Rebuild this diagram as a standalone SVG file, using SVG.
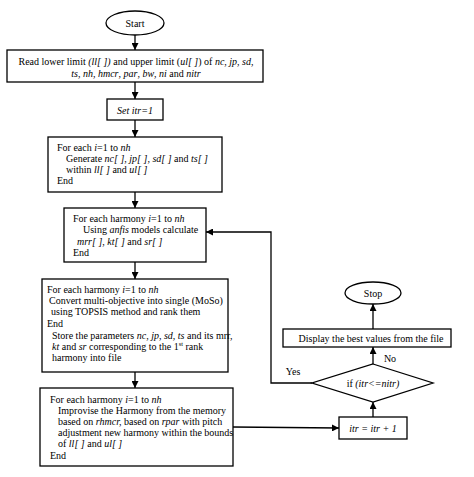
<svg xmlns="http://www.w3.org/2000/svg" width="474" height="477" viewBox="0 0 474 477" font-family="'Liberation Serif', 'Times New Roman', Times, serif">
<style>
.b{fill:#fff;stroke:#000;stroke-width:1.3}
text{font-family:'Liberation Serif','Times New Roman',Times,serif;font-size:10px;fill:#000}
.c{text-anchor:middle}
.i{font-style:italic}
.l{fill:none;stroke:#000;stroke-width:1.3}
</style>
<defs>
<marker id="a" viewBox="0 0 10 10" refX="10" refY="5" markerWidth="7" markerHeight="7" markerUnits="userSpaceOnUse" orient="auto"><path d="M0,0L10,5L0,10z" fill="#000"/></marker>
</defs>
<rect width="474" height="477" fill="#fff"/>
<g id="connectors">
<line class="l" x1="135" y1="35" x2="135" y2="50" marker-end="url(#a)"/>
<line class="l" x1="135" y1="82" x2="135" y2="99" marker-end="url(#a)"/>
<line class="l" x1="135" y1="120" x2="135" y2="137" marker-end="url(#a)"/>
<line class="l" x1="135" y1="192" x2="135" y2="208" marker-end="url(#a)"/>
<line class="l" x1="135" y1="262" x2="135" y2="279" marker-end="url(#a)"/>
<line class="l" x1="135" y1="372" x2="135" y2="388" marker-end="url(#a)"/>
<line class="l" x1="233" y1="427" x2="339" y2="428" marker-end="url(#a)"/>
<line class="l" x1="373" y1="417" x2="373" y2="402" marker-end="url(#a)"/>
<line class="l" x1="373" y1="364" x2="373" y2="347" marker-end="url(#a)"/>
<line class="l" x1="373" y1="329" x2="373" y2="304" marker-end="url(#a)"/>
<polyline class="l" points="312,383 271,383 271,232 206,232" marker-end="url(#a)"/>
<text class="c" x="293" y="375">Yes</text>
<text class="c" x="390" y="362">No</text>
</g>
<g id="start">
<ellipse class="b" cx="135" cy="23" rx="29" ry="12"/>
<text class="c" x="135" y="27">Start</text>
</g>
<g id="read">
<rect class="b" x="7" y="50" width="256" height="32"/>
<text class="c" x="136" y="65" font-size="9.7">Read lower limit <tspan class="i">(ll[ ])</tspan> and upper limit (<tspan class="i">ul[ ]</tspan>) of <tspan class="i">nc</tspan>, <tspan class="i">jp</tspan>, <tspan class="i">sd</tspan>,</text>
<text class="c" x="136" y="77" font-size="9.7"><tspan class="i">ts</tspan>, <tspan class="i">nh</tspan>, <tspan class="i">hmcr</tspan>, <tspan class="i">par</tspan>, <tspan class="i">bw</tspan>, <tspan class="i">ni</tspan> and <tspan class="i">nitr</tspan></text>
</g>
<g id="setitr">
<rect class="b" x="107" y="99" width="56" height="21"/>
<text class="c i" x="135" y="113.5">Set itr=1</text>
</g>
<g id="generate">
<rect class="b" x="48" y="137" width="174" height="55"/>
<text x="57" y="150.5">For each <tspan class="i">i</tspan>=1 to <tspan class="i">nh</tspan></text>
<text x="66" y="161.5">Generate <tspan class="i">nc[ ]</tspan>, <tspan class="i">jp[ ]</tspan>, <tspan class="i">sd[ ]</tspan> and <tspan class="i">ts[ ]</tspan></text>
<text x="66" y="172.5">within <tspan class="i">ll[ ]</tspan> and <tspan class="i">ul[ ]</tspan></text>
<text x="57" y="183.5">End</text>
</g>
<g id="anfis">
<rect class="b" x="64" y="208" width="142" height="54"/>
<text x="73" y="221.5">For each harmony <tspan class="i">i</tspan>=1 to <tspan class="i">nh</tspan></text>
<text x="83" y="233">Using <tspan class="i">anfis</tspan> models calculate</text>
<text x="77" y="244.5"><tspan class="i">mrr[ ]</tspan>, <tspan class="i">kt[ ]</tspan> and <tspan class="i">sr[ ]</tspan></text>
<text x="73" y="256">End</text>
</g>
<g id="topsis">
<rect class="b" x="42" y="279" width="186" height="93"/>
<text x="47" y="293">For each harmony <tspan class="i">i</tspan>=1 to <tspan class="i">nh</tspan></text>
<text x="49" y="304">Convert multi-objective into single (MoSo)</text>
<text x="51" y="315">using TOPSIS method and rank them</text>
<text x="47" y="327">End</text>
<text x="52" y="339">Store the parameters <tspan class="i">nc</tspan>, <tspan class="i">jp</tspan>, <tspan class="i">sd</tspan>, <tspan class="i">ts</tspan> and its mrr,</text>
<text x="52" y="350"><tspan class="i">kt</tspan> and <tspan class="i">sr</tspan> corresponding to the 1<tspan font-size="6.5" dy="-4">st</tspan><tspan dy="4"> rank</tspan></text>
<text x="52" y="361">harmony into file</text>
</g>
<g id="improvise">
<rect class="b" x="40" y="388" width="193" height="78"/>
<text x="50" y="402.5">For each harmony <tspan class="i">i</tspan>=1 to <tspan class="i">nh</tspan></text>
<text x="58" y="413.5">Improvise the Harmony from the memory</text>
<text x="58" y="424.5">based on <tspan class="i">rhmcr,</tspan> based on <tspan class="i">rpar</tspan> with pitch</text>
<text x="58" y="436">adjustment new harmony within the bounds</text>
<text x="58" y="447">of <tspan class="i">ll[ ]</tspan> and <tspan class="i">ul[ ]</tspan></text>
<text x="50" y="458.5">End</text>
</g>
<g id="increment">
<rect class="b" x="339" y="417" width="68" height="22"/>
<text class="c i" x="373" y="432">itr = itr + 1</text>
</g>
<g id="decision">
<polygon class="b" points="373,364 433,383 373,402 312,383"/>
<text class="c" x="373" y="386.5">if <tspan class="i">(itr&lt;=nitr)</tspan></text>
</g>
<g id="display">
<rect class="b" x="283" y="329" width="168" height="18"/>
<text class="c" x="371" y="341.5" font-size="9.4">Display the best values from the file</text>
</g>
<g id="stop">
<ellipse class="b" cx="373" cy="293" rx="28" ry="11"/>
<text class="c" x="373" y="297">Stop</text>
</g>
</svg>
